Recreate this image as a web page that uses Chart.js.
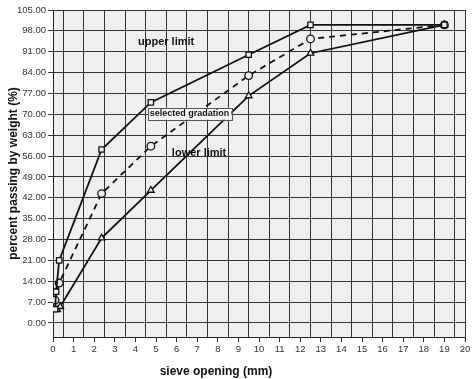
<!DOCTYPE html>
<html>
<head>
<meta charset="utf-8">
<script src="https://cdn.jsdelivr.net/npm/chart.js@4.4.1/dist/chart.umd.min.js"></script>
<style>
  html, body { margin: 0; padding: 0; background: #ffffff; }
  #wrap { width: 474px; height: 379px; position: relative; }
</style>
</head>
<body>
<div id="wrap"><canvas id="c" width="474" height="379"></canvas></div>
<script>
// ---- data ----
const upperX    = [0.1, 0.15, 0.3, 2.36, 4.75, 9.5, 12.5, 19];
const upperY    = [4.6, 10.5, 21, 58.2, 74, 90, 100, 100];
const selectedX = [0.1, 0.3, 2.36, 4.75, 9.5, 12.5, 19];
const selectedY = [7.7, 13.4, 43.4, 59.3, 83, 95.3, 100];
const lowerX    = [0.2, 0.35, 2.36, 4.75, 9.5, 12.5, 19];
const lowerY    = [4.5, 5.5, 28.5, 44.5, 76.2, 90.5, 100];

const xTickValues = [0,1,2,3,4,5,6,7,8,9,10,11,12,13,14,15,16,17,18,19,20];
const xGridValues = [0.5,1.5,2.5,3.5,4.5,5.5,6.5,7.5,8.5,9.5,10.5,11.5,12.5,13.5,14.5,15.5,16.5,17.5,18.5,19.5,20];
const yTickValues = [0,7,14,21,28,35,42,49,56,63,70,77,84,91,98,105];

const labels = [
  { text: 'upper limit', x: 5.49, y: 94.3, boxed: false },
  { text: 'selected gradation', x: 6.63, y: 70.2, boxed: true },
  { text: 'lower limit', x: 7.09, y: 56.9, boxed: false }
];
const xTitle = 'sieve opening (mm)';
const yTitle = 'percent passing by weight (%)';

function pts(xs, ys) { return xs.map((x, i) => ({ x: x, y: ys[i] })); }

const FONT = '"Liberation Sans", Arial, sans-serif';

const bgPlugin = {
  id: 'plotbg',
  beforeDraw(chart) {
    const a = chart.chartArea, ctx = chart.ctx;
    ctx.save();
    ctx.fillStyle = '#efefef';
    ctx.fillRect(a.left, a.top, a.right - a.left, a.bottom - a.top);
    ctx.restore();
  }
};

const textPlugin = {
  id: 'texts',
  afterDatasetsDraw(chart) {
    const ctx = chart.ctx, xs = chart.scales.x, ys = chart.scales.y;
    ctx.save();
    ctx.textBaseline = 'middle';
    ctx.textAlign = 'center';
    labels.forEach(l => {
      const px = xs.getPixelForValue(l.x), py = ys.getPixelForValue(l.y);
      if (l.boxed) {
        ctx.font = 'bold 9px ' + FONT;
        const w = ctx.measureText(l.text).width + 4;
        ctx.fillStyle = '#f7f7f7';
        ctx.fillRect(px - w / 2, py - 6, w, 12);
        ctx.strokeStyle = '#555';
        ctx.lineWidth = 1;
        ctx.strokeRect(Math.round(px - w / 2) + 0.5, Math.round(py - 6) + 0.5, Math.round(w), 12);
      } else {
        ctx.font = 'bold 11px ' + FONT;
      }
      ctx.fillStyle = '#111';
      ctx.fillText(l.text, px, py);
    });
    // x axis title
    ctx.font = 'bold 12px ' + FONT;
    ctx.fillStyle = '#111';
    ctx.fillText(xTitle, 216, 372);
    ctx.restore();
  }
};

const common = {
  borderColor: '#111',
  borderWidth: 1.8,
  pointBackgroundColor: '#efefef',
  pointBorderColor: '#111',
  pointBorderWidth: 1.3,
  pointRadius: 3.8,
  showLine: true,
  tension: 0
};

new Chart(document.getElementById('c'), {
  type: 'scatter',
  data: {
    datasets: [
      Object.assign({ label: 'upper limit', data: pts(upperX, upperY), pointStyle: 'rect' }, common),
      Object.assign({ label: 'selected gradation', data: pts(selectedX, selectedY), pointStyle: 'circle', borderDash: [6, 5] }, common),
      Object.assign({ label: 'lower limit', data: pts(lowerX, lowerY), pointStyle: 'triangle' }, common)
    ]
  },
  options: {
    responsive: false,
    animation: false,
    layout: { padding: { left: 0, right: 9, top: 10, bottom: 0 } },
    plugins: { legend: { display: false }, tooltip: { enabled: false } },
    scales: {
      x: {
        type: 'linear', position: 'bottom', min: 0, max: 20,
        afterBuildTicks: s => { s.ticks = xTickValues.map(v => ({ value: v })); },
        afterFit: s => { s.height = 42; },
        grid: { drawOnChartArea: false, drawTicks: true, tickLength: 5, color: '#333' },
        border: { display: true, color: '#222', width: 1 },
        ticks: { color: '#333', font: { family: FONT, size: 9.5 }, padding: 2, maxRotation: 0, autoSkip: false }
      },
      x2: {
        type: 'linear', position: 'bottom', min: 0, max: 20,
        afterBuildTicks: s => { s.ticks = xGridValues.map(v => ({ value: v })); },
        afterFit: s => { s.height = 0; },
        grid: { drawOnChartArea: true, drawTicks: false, color: '#333', lineWidth: 1 },
        border: { display: false },
        ticks: { display: false }
      },
      y: {
        type: 'linear', min: -4.7, max: 105,
        afterBuildTicks: s => { s.ticks = yTickValues.map(v => ({ value: v })); },
        afterFit: s => { s.width = 53; },
        grid: { drawOnChartArea: true, drawTicks: true, tickLength: 5, color: '#333' },
        border: { display: true, color: '#222', width: 1 },
        ticks: { color: '#333', font: { family: FONT, size: 9.5 }, padding: 2, callback: v => Number(v).toFixed(2) },
        title: { display: true, text: yTitle, color: '#111', font: { family: FONT, size: 12, weight: 'bold' }, padding: { top: 6, bottom: 0 } }
      }
    }
  },
  plugins: [bgPlugin, textPlugin]
});
</script>
</body>
</html>
